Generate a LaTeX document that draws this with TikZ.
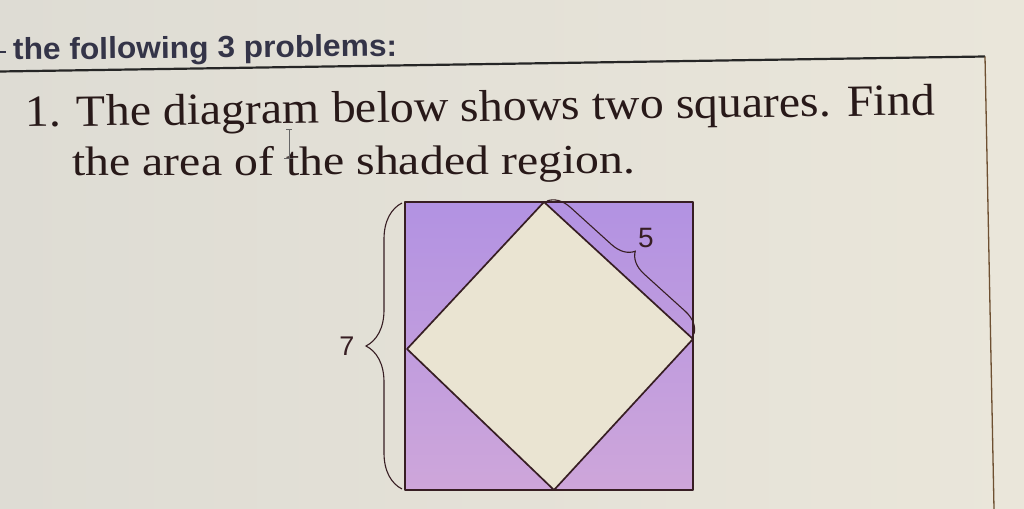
\documentclass[tikz,border=0pt]{standalone}
\usepackage{fontspec}
\setmainfont{Liberation Serif}
\newfontfamily\hdrfont{Liberation Sans}
\usetikzlibrary{decorations.pathreplacing}
\definecolor{paperL}{RGB}{222,220,212}
\definecolor{paperR}{RGB}{234,230,218}
\definecolor{diamondfill}{RGB}{234,228,210}
\definecolor{purpleTop}{RGB}{178,146,226}
\definecolor{purpleBot}{RGB}{206,166,218}
\definecolor{inkline}{RGB}{55,30,35}
\definecolor{hdrink}{RGB}{52,52,72}
\definecolor{boxline}{RGB}{110,80,50}
\definecolor{textink}{RGB}{40,25,25}
\tikzset{
  figline/.style={draw=inkline, line width=1.7bp, line join=round},
  bracestyle/.style={draw=inkline, line width=1.1bp, decorate},
  txt/.style={inner sep=0pt, anchor=base west},
}
\begin{document}
\begin{tikzpicture}[x=1bp,y=-1bp]
  % page
  \useasboundingbox (0,0) rectangle (1024,509);
  \shade[left color=paperL, right color=paperR] (0,0) rectangle (1024,509);

  % header text and rules
  \node[txt, rotate=0.6, text=hdrink] (hdr) at (13,60) {\resizebox{384bp}{22bp}{\hdrfont\bfseries the following 3 problems:}};
  \coordinate (dashA) at (0,52);
  \coordinate (dashB) at (6,52);
  \draw[hdrink, line width=2bp] (dashA) -- (dashB);
  \coordinate (ruleL) at (0,71.5);
  \coordinate (ruleR) at (985,56.5);
  \coordinate (boxB) at (994,509);
  \draw[black!85, line width=2.2bp] (ruleL) -- (ruleR);
  \draw[boxline, line width=1.3bp] (ruleR) -- (boxB);

  % problem text
  \node[txt, rotate=0.75, text=textink] (line1) at (25,127) {\resizebox{910bp}{31bp}{1. The diagram below shows two squares. Find}};
  \node[txt, rotate=0.25, text=textink] (line2) at (72,176) {\resizebox{563bp}{29bp}{the area of the shaded region.}};

  % cursor
  \draw[black!60, line width=0.9bp] (286,129.5) -- (292,129.5) (289,129.5) -- (289,158) (284,158) -- (293,158);

  % squares
  \coordinate (SW) at (405,490);
  \coordinate (NE) at (693,202);
  \coordinate (T) at (544,202);
  \coordinate (R) at (693,339);
  \coordinate (B) at (554,490);
  \coordinate (L) at (407,349);
  \shade[top color=purpleTop, bottom color=purpleBot] (SW) rectangle (NE);
  \fill[diamondfill] (T) -- (R) -- (B) -- (L) -- cycle;
  \draw[figline] (T) -- (R) -- (B) -- (L) -- cycle;
  \draw[figline] (SW) rectangle (NE);

  % braces
  \coordinate (brT) at (547,201);
  \coordinate (brR) at (694,334);
  \draw[bracestyle, decoration={brace, amplitude=22bp}] (brT) -- (brR);
  \node[inner sep=0pt, font=\hdrfont\fontsize{28bp}{30bp}\selectfont, text=inkline] (five) at (646,238) {5};
  \coordinate (b7top) at (402,203);
  \coordinate (b7bot) at (402,489);
  \draw[bracestyle, decoration={brace, amplitude=36bp}] (b7bot) -- (b7top);
  \node[inner sep=0pt, font=\hdrfont\fontsize{27bp}{29bp}\selectfont, text=inkline] (seven) at (347,346) {7};
\end{tikzpicture}
\end{document}
